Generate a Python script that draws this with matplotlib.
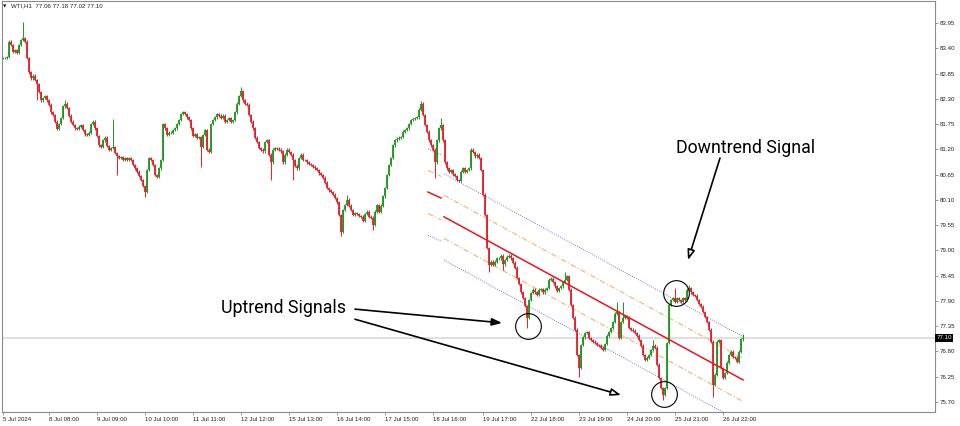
import matplotlib
import matplotlib.pyplot as plt
import numpy as np

matplotlib.use('Agg')

OUT_FILE = "out.png"

# hourly closes, one list per session; each list starts at the bar of its axis label
s_0705 = [83.19, 83.19, 83.21, 83.54, 83.47, 83.32, 83.36, 83.30, 83.47, 83.58, 83.62, 83.54,
          83.19, 82.88, 82.75, 82.80, 82.71, 82.62, 82.45, 82.27, 82.32, 82.36, 82.27]
s_0708 = [82.17, 82.01, 81.95, 81.80, 81.64, 81.75, 81.88, 82.14, 82.19, 82.10, 81.93, 81.80,
          81.73, 81.66, 81.64, 81.69, 81.73, 81.62, 81.53, 81.51, 81.56, 81.75, 81.80, 81.66]
s_0709 = [81.49, 81.29, 81.25, 81.40, 81.45, 81.27, 81.19, 81.23, 81.25, 81.12, 81.05, 81.01,
          81.03, 80.97, 81.01, 80.97, 81.01, 80.97, 80.86, 80.79, 80.71, 80.62, 80.53, 80.40]
s_0710 = [80.27, 80.75, 81.01, 80.97, 80.86, 80.64, 80.60, 80.79, 80.97, 81.75, 81.66, 81.51,
          81.56, 81.56, 81.62, 81.66, 81.75, 81.84, 81.97, 82.01, 81.97, 81.90, 81.84, 81.66]
s_0711 = [81.49, 81.53, 81.45, 81.47, 81.25, 81.51, 81.62, 81.19, 81.14, 81.75, 81.84, 81.90,
          81.97, 81.93, 81.88, 81.93, 81.80, 81.84, 81.88, 81.80, 81.84, 82.01, 82.19, 82.36]
s_0712 = [82.47, 82.27, 82.19, 82.17, 81.95, 81.80, 81.66, 81.45, 81.36, 81.23, 81.19, 81.16,
          81.36, 81.40, 81.08, 80.92, 81.19, 81.23, 81.21, 81.19, 81.16, 80.92, 81.08, 81.19]
s_0715 = [81.14, 81.08, 80.97, 80.84, 80.79, 81.01, 81.08, 80.97, 80.97, 80.92, 80.88, 80.86,
          80.82, 80.79, 80.75, 80.68, 80.64, 80.58, 80.47, 80.36, 80.31, 80.27, 80.21, 80.14]
s_0716 = [80.05, 79.77, 79.40, 79.88, 79.99, 80.10, 79.97, 79.88, 79.77, 79.81, 79.79, 79.75,
          79.73, 79.64, 79.79, 79.84, 79.73, 79.71, 79.55, 79.84, 79.99, 79.84, 79.97, 80.18]
s_0717 = [80.36, 80.64, 80.86, 81.01, 81.29, 81.40, 81.43, 81.45, 81.47, 81.58, 81.62, 81.66,
          81.75, 81.84, 81.86, 81.88, 81.90, 82.06, 82.19, 81.95, 81.73, 81.58, 81.40, 81.29]
s_0718 = [81.19, 80.92, 81.40, 81.66, 81.73, 81.40, 80.92, 80.79, 80.71, 80.75, 80.66, 80.62,
          80.53, 80.51, 80.71, 80.79, 80.71, 80.75, 80.79, 81.19, 81.14, 81.05, 81.08, 81.01, 80.75]
s_0719 = [80.21, 79.77, 79.05, 78.68, 78.75, 78.68, 78.75, 78.83, 78.83, 78.88, 78.70, 78.79,
          78.86, 78.88, 78.83, 78.73, 78.62, 78.40, 78.27, 78.09, 77.96, 77.79, 77.53, 77.92]
s_0722 = [78.07, 78.14, 78.09, 78.03, 78.14, 78.16, 78.09, 78.14, 78.18, 78.36, 78.38, 78.31,
          78.22, 78.12, 78.18, 78.22, 78.31, 78.36, 78.44, 78.14, 77.81, 77.53, 77.27, 76.72]
s_0723 = [76.44, 76.94, 77.11, 77.20, 77.22, 77.09, 77.05, 77.01, 76.98, 76.94, 76.92, 76.88,
          76.83, 76.96, 77.14, 77.22, 77.31, 77.44, 77.62, 77.66, 77.09, 77.44, 77.53, 77.57]
s_0724 = [77.53, 77.31, 77.27, 77.25, 77.20, 77.14, 77.05, 76.92, 76.72, 76.61, 76.66, 76.72,
          76.83, 76.92, 76.88, 76.51, 76.22, 76.00, 75.85, 76.00, 76.98, 77.81, 77.92, 77.96]
s_0725 = [77.88, 77.96, 77.92, 77.88, 77.96, 77.92, 78.14, 78.18, 78.09, 78.03, 78.01, 77.92,
          77.83, 77.77, 77.66, 77.55, 77.44, 77.27, 77.01, 76.07, 76.29, 77.01, 77.05, 76.44]
s_0726 = [76.22, 76.33, 76.55, 76.72, 76.79, 76.68, 76.66, 76.57, 76.79, 77.06, 77.10]

tick_labels = ["5 Jul 2024", "8 Jul 08:00", "9 Jul 09:00", "10 Jul 10:00", "11 Jul 11:00",
               "12 Jul 12:00", "15 Jul 13:00", "16 Jul 14:00", "17 Jul 15:00", "18 Jul 16:00",
               "19 Jul 17:00", "22 Jul 18:00", "23 Jul 19:00", "24 Jul 20:00", "25 Jul 21:00",
               "26 Jul 22:00"]

price_ticks = [75.70, 76.25, 76.80, 77.35, 77.90, 78.45, 79.00, 79.55, 80.10, 80.65,
               81.20, 81.75, 82.30, 82.85, 83.40, 83.95]

# long wicks
high_bars = [10, 31, 55, 119, 172, 209, 219, 281, 307, 310, 325, 336, 343, 370]
high_vals = [83.97, 82.27, 81.86, 82.56, 80.21, 82.25, 81.88, 78.53, 77.88, 77.88, 77.05, 78.18, 78.25, 77.18]
low_bars = [17, 57, 71, 99, 134, 145, 169, 185, 216, 243, 250, 262, 288, 330, 355, 370]
low_vals = [82.27, 80.64, 80.16, 80.82, 80.53, 80.53, 79.31, 79.44, 80.58, 78.53, 78.57, 77.31,
            76.24, 75.74, 75.81, 77.02]

# regression channels: bar index and centre line price at both ends
chan_bars = [220.5, 370]
chan_mid = [79.73, 76.18]
old_chan_bars = [212.5, 219]
old_chan_mid = [80.27, 80.14]
chan_inner = 0.47
chan_outer = 0.94

signal_bars = [262.5, 330.5, 336.5]
signal_prices = [77.35, 75.87, 78.07]

last_price = 77.10
header = "WTI,H1  77.06 77.18 77.02 77.10"

GREEN = '#1f961f'
RED = '#e5202a'
WICK = 0.03
SMALL = 4.4
TICK_FONT = 'Liberation Sans'


def draw_candles(ax, closes):
    closes = np.asarray(closes)
    opens = np.r_[closes[0], closes[:-1]]
    highs = np.maximum(opens, closes) + WICK
    lows = np.minimum(opens, closes) - WICK
    highs[high_bars] = high_vals
    lows[low_bars] = low_vals
    x = np.arange(len(closes))
    colors = np.where(closes >= opens, GREEN, RED)
    ax.vlines(x, lows, highs, colors=colors, lw=0.7, zorder=3)
    ax.vlines(x, np.minimum(opens, closes), np.maximum(opens, closes), colors=colors, lw=1.3, zorder=3)


def draw_channel(ax, bars, mid):
    mid = np.asarray(mid)
    ax.plot(bars, mid, color='#e8141c', lw=1.1, zorder=4)
    for off in (chan_inner, -chan_inner):
        ax.plot(bars, mid + off, color='#eeb27a', lw=0.8, ls=(0, (5, 2, 1, 2)), zorder=2)
    for off in (chan_outer, -chan_outer):
        ax.plot(bars, mid + off, color='#4a55c8', lw=0.6, ls=(0, (1, 1.6)), zorder=2)


def draw_signals(ax):
    ax.plot(signal_bars, signal_prices, 'o', ms=18.5, mfc='none', mec='black', mew=0.8, zorder=6)
    font = dict(family='Roboto', fontsize=12.8, color='black')
    ax.text(109, 77.64, "Uptrend Signals", ha='left', va='baseline', **font)
    ax.text(336.5, 81.12, "Downtrend Signal", ha='left', va='baseline', **font)
    filled = dict(arrowstyle='-|>,head_length=0.6,head_width=0.22', lw=1.2, ec='black', fc='black',
                  shrinkA=0, shrinkB=0)
    hollow = dict(filled, fc='white')
    ax.annotate('', xy=(249.5, 77.42), xytext=(176, 77.72), arrowprops=filled, zorder=7)
    ax.annotate('', xy=(309, 75.85), xytext=(176, 77.50), arrowprops=hollow, zorder=7)
    ax.annotate('', xy=(342.5, 78.79), xytext=(358.5, 81.01), arrowprops=hollow, zorder=7)


def main():
    sessions = [s_0705, s_0708, s_0709, s_0710, s_0711, s_0712, s_0715, s_0716,
                s_0717, s_0718, s_0719, s_0722, s_0723, s_0724, s_0725, s_0726]
    closes = np.concatenate(sessions)
    tick_pos = np.cumsum([0] + [len(s) for s in sessions[:-1]])

    fig = plt.figure(figsize=(9.6, 4.26), dpi=100)
    ax = fig.add_axes([2 / 960, 1 - 412 / 426, 933 / 960, 411 / 426])

    ax.axhline(last_price, color='#d9d9d9', lw=1.2, zorder=1)
    draw_candles(ax, closes)
    draw_channel(ax, chan_bars, chan_mid)
    draw_channel(ax, old_chan_bars, old_chan_mid)
    draw_signals(ax)

    ax.set_xlim(-0.5, 466)
    ax.set_ylim(75.48, 84.43)

    for sp in ax.spines.values():
        sp.set_color('#8a8a8a')
        sp.set_linewidth(0.8)

    ax.set_xticks(tick_pos)
    ax.set_xticklabels(tick_labels, ha='left', fontsize=SMALL, family=TICK_FONT, color='#222222')
    ax.yaxis.tick_right()
    ax.set_yticks(price_ticks)
    ax.set_yticklabels([f"{p:.2f}" for p in price_ticks], fontsize=SMALL, family=TICK_FONT, color='#222222')
    ax.tick_params(axis='both', direction='out', length=2.2, width=0.6, color='#8a8a8a', pad=1.2)

    ax.text(1.0015, last_price, f"{last_price:.2f}", transform=ax.get_yaxis_transform(),
            ha='left', va='center', fontsize=SMALL, family=TICK_FONT, color='white', zorder=8,
            bbox=dict(boxstyle='square,pad=0.25', fc='black', ec='none'), clip_on=False)

    fig.text(5 / 960, 1 - 6 / 426, "\u25bc", fontsize=3.2, ha='center', va='center', color='#111111')
    fig.text(11 / 960, 1 - 6 / 426, header, fontsize=SMALL, family=TICK_FONT, va='center',
             color='#222222')

    fig.savefig(OUT_FILE, dpi=100)
    plt.close(fig)


if __name__ == "__main__":
    main()
